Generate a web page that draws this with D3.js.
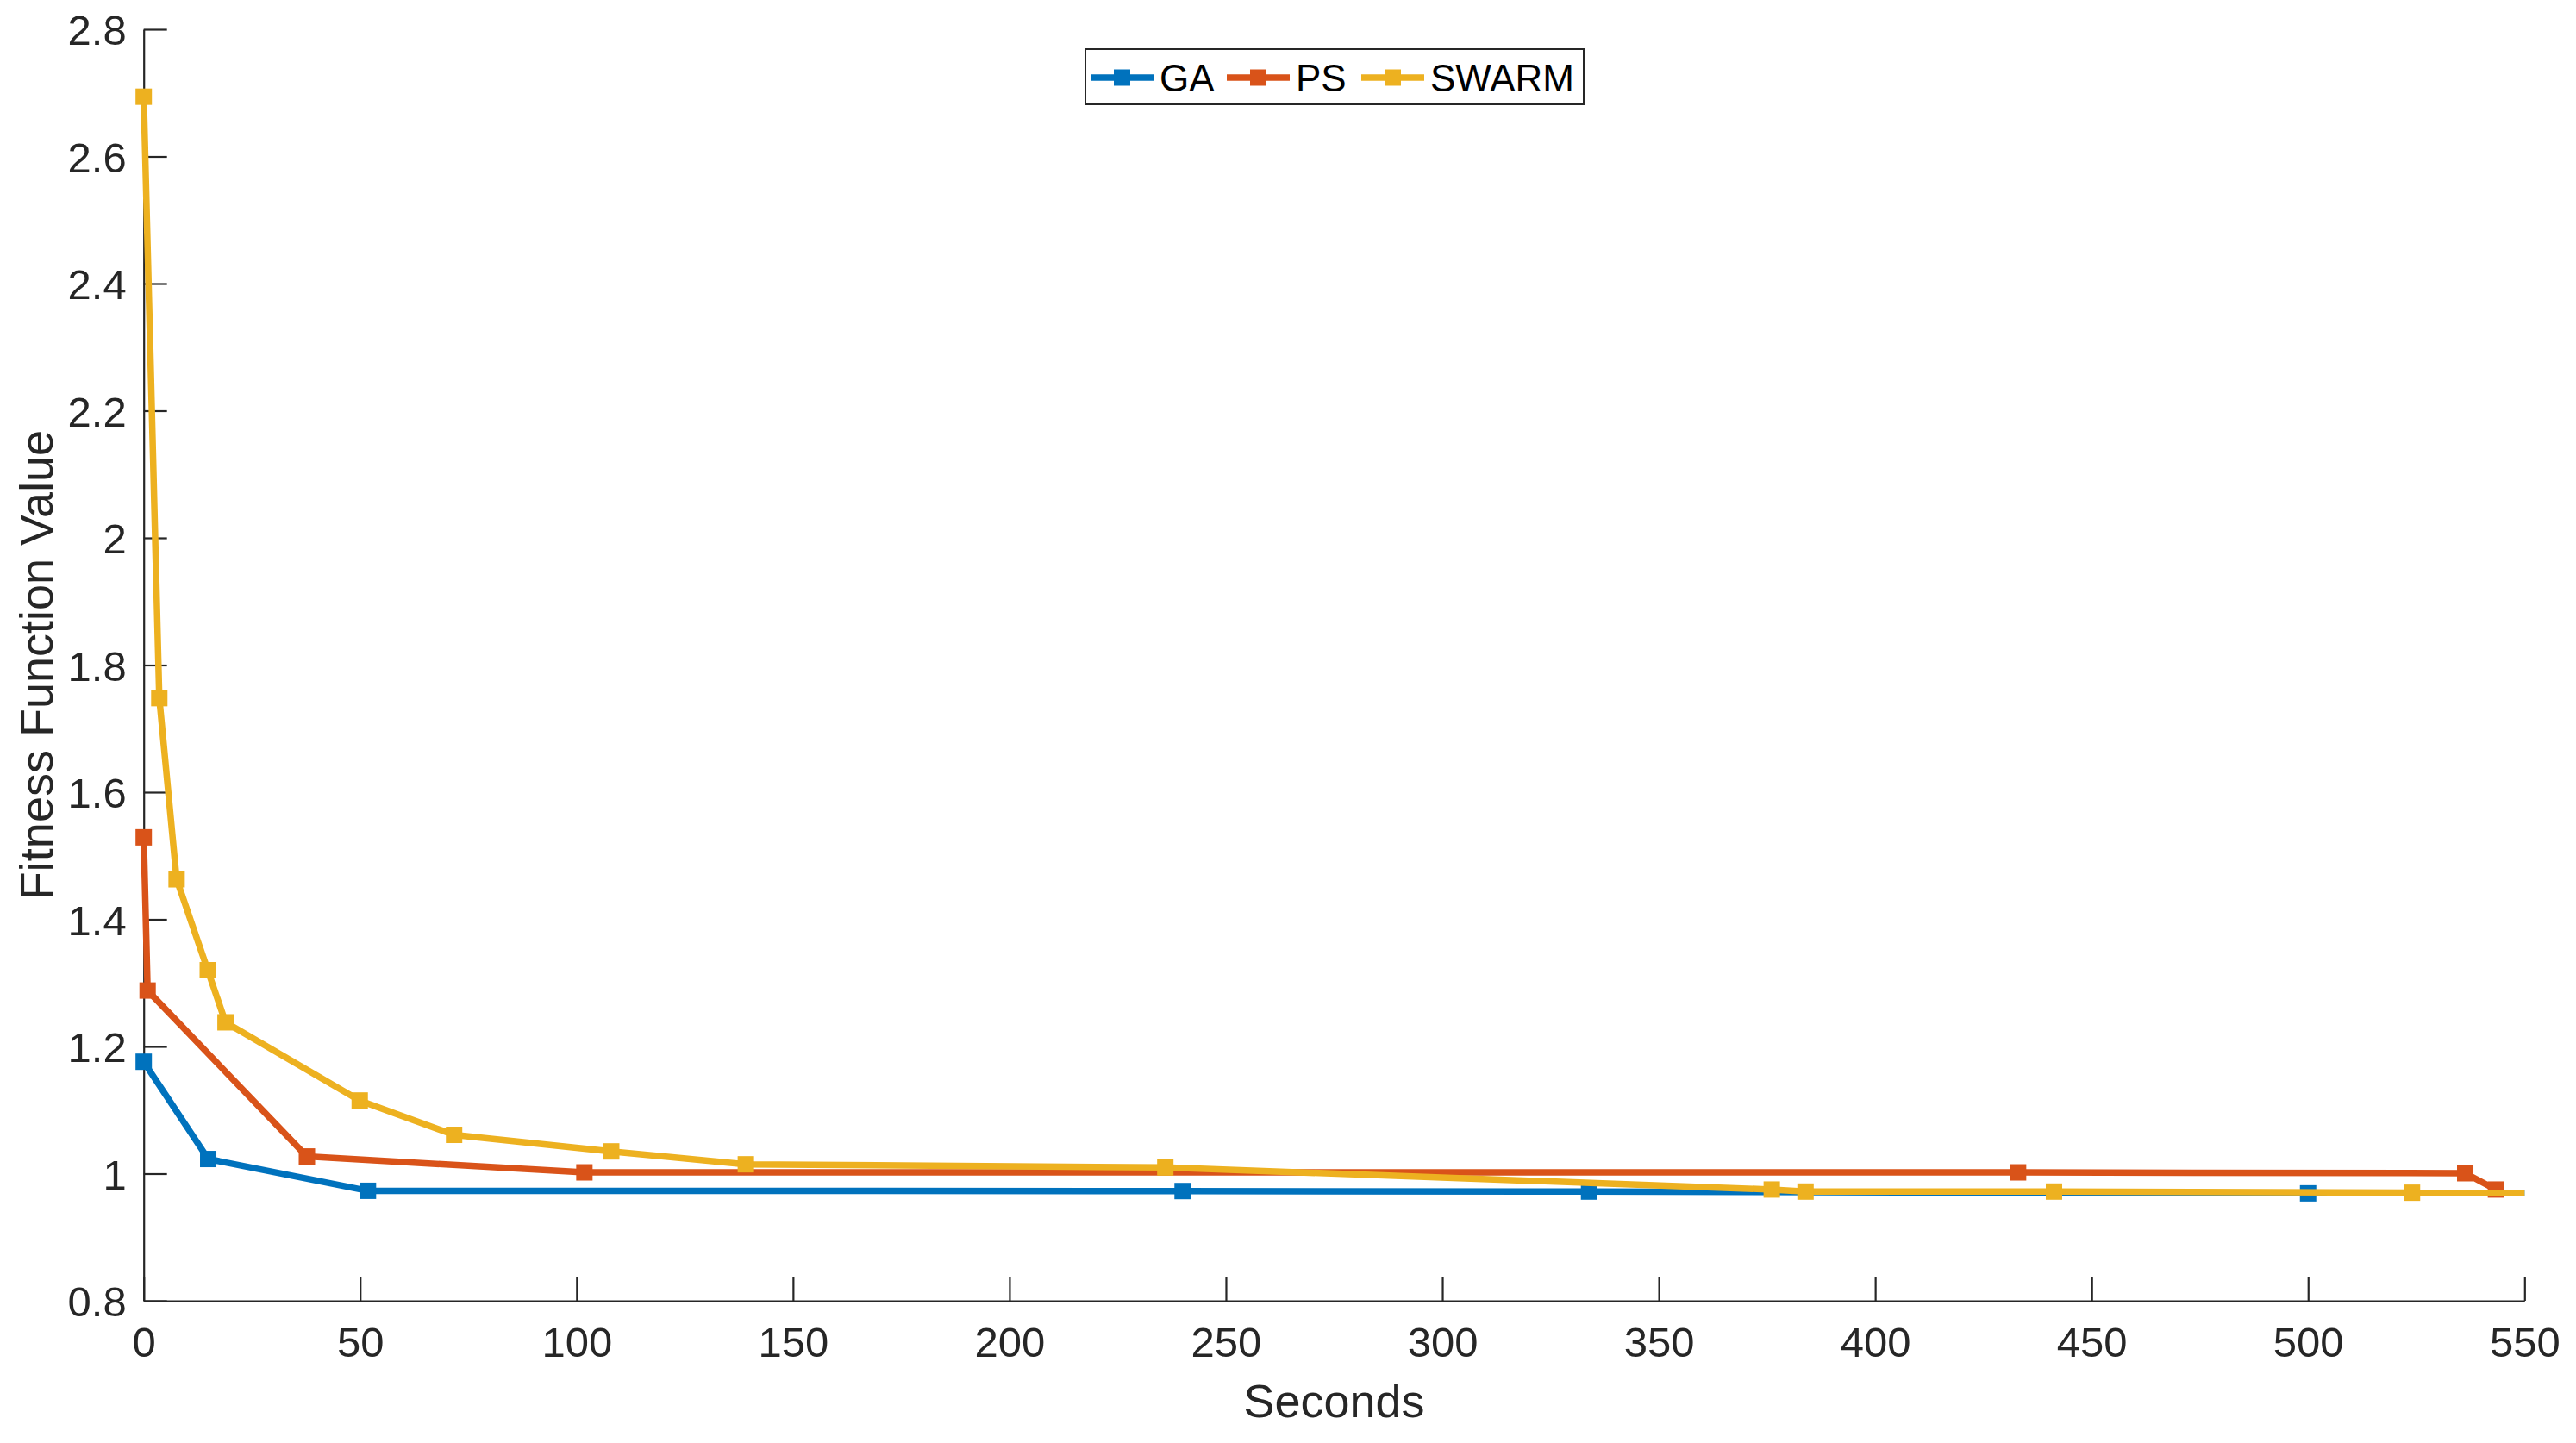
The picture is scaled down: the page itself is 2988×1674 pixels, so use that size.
<!DOCTYPE html>
<html>
<head>
<meta charset="utf-8">
<script src="https://cdn.jsdelivr.net/npm/d3@7"></script>
<style>
  html, body { margin: 0; padding: 0; background: #ffffff; }
  svg { display: block; }
</style>
</head>
<body>
<svg id="chart" width="2988" height="1674"></svg>
<script>
// ---- data ----
const seriesNames = ["GA", "PS", "SWARM"];
const seriesColors = ["#0072BD", "#D95319", "#EDB120"];

const gaSeconds = [0, 14.9, 51.8, 240, 333.9, 500, 556];
const gaFitness = [1.176, 1.023, 0.973, 0.9726, 0.9718, 0.969, 0.969];

const psSeconds = [0, 0.9, 37.7, 101.8, 433, 536.3, 543.4];
const psFitness = [1.529, 1.288, 1.027, 1.002, 1.002, 1.0007, 0.975];

const swarmSeconds = [0, 3.6, 7.6, 14.8, 18.9, 49.9, 71.7, 108, 139.1, 236, 376.1, 383.9, 441.3, 524, 558];
const swarmFitness = [2.694, 1.748, 1.463, 1.32, 1.238, 1.115, 1.061, 1.035, 1.0147, 1.0097, 0.975, 0.9718, 0.9718, 0.970, 0.970];

const xTickValues = [0, 50, 100, 150, 200, 250, 300, 350, 400, 450, 500, 550];
const yTickValues = [0.8, 1.0, 1.2, 1.4, 1.6, 1.8, 2.0, 2.2, 2.4, 2.6, 2.8];
const yTickLabels = ["0.8", "1", "1.2", "1.4", "1.6", "1.8", "2", "2.2", "2.4", "2.6", "2.8"];

const xLabel = "Seconds";
const yLabel = "Fitness Function Value";

// ---- layout ----
const plotLeft = 166.7, plotRight = 2928.3, plotTop = 34, plotBottom = 1509;
const font = "'Liberation Sans', Arial, Helvetica, sans-serif";
const textColor = "#262626";

const svg = d3.select("#chart");

const x = d3.scaleLinear().domain([0, 550]).range([plotLeft, plotRight]);
const y = d3.scaleLinear().domain([0.8, 2.8]).range([plotBottom, plotTop]);

// ---- axes ----
const xAxis = d3.axisBottom(x).tickValues(xTickValues).tickSizeInner(-27).tickSizeOuter(0).tickPadding(30).tickFormat(d3.format("d"));
const yAxis = d3.axisLeft(y).tickValues(yTickValues).tickSizeInner(-27).tickSizeOuter(0).tickPadding(20)
  .tickFormat((d, i) => yTickLabels[i]);

const gx = svg.append("g").attr("transform", `translate(0,${plotBottom})`).call(xAxis);
const gy = svg.append("g").attr("transform", `translate(${plotLeft},0)`).call(yAxis);

[gx, gy].forEach(g => {
  g.select(".domain").attr("stroke", textColor).attr("stroke-width", 2.2);
  g.selectAll(".tick line").attr("stroke", textColor).attr("stroke-width", 2.2);
  g.selectAll(".tick text").attr("fill", textColor).style("font-family", font).style("font-size", "49px");
});
gx.selectAll(".tick text").attr("dy", "0.71em");
gy.selectAll(".tick text").attr("dy", "0.36em");

// axis labels
svg.append("text")
  .attr("x", (plotLeft + plotRight) / 2).attr("y", 1644)
  .attr("text-anchor", "middle").attr("fill", textColor)
  .style("font-family", font).style("font-size", "54px")
  .text(xLabel);

svg.append("text")
  .attr("transform", `translate(61,${(plotTop + plotBottom) / 2}) rotate(-90)`)
  .attr("text-anchor", "middle").attr("fill", textColor)
  .style("font-family", font).style("font-size", "54px")
  .text(yLabel);

// ---- clip ----
svg.append("defs").append("clipPath").attr("id", "plotClip")
  .append("rect").attr("x", plotLeft - 30).attr("y", plotTop - 30)
  .attr("width", plotRight - plotLeft + 30).attr("height", plotBottom - plotTop + 60);

const plotG = svg.append("g").attr("clip-path", "url(#plotClip)");

const allSeries = [
  { name: seriesNames[0], color: seriesColors[0], xs: gaSeconds, ys: gaFitness },
  { name: seriesNames[1], color: seriesColors[1], xs: psSeconds, ys: psFitness },
  { name: seriesNames[2], color: seriesColors[2], xs: swarmSeconds, ys: swarmFitness }
];

const line = d3.line().x(d => x(d[0])).y(d => y(d[1]));
const markerSize = 19;

allSeries.forEach(s => {
  const pts = s.xs.map((v, i) => [v, s.ys[i]]);
  const g = plotG.append("g");
  g.append("path").datum(pts)
    .attr("d", line).attr("fill", "none")
    .attr("stroke", s.color).attr("stroke-width", 7.5)
    .attr("stroke-linejoin", "round");
  g.selectAll("rect").data(pts.filter(p => p[0] <= 550)).join("rect")
    .attr("x", d => x(d[0]) - markerSize / 2)
    .attr("y", d => y(d[1]) - markerSize / 2)
    .attr("width", markerSize).attr("height", markerSize)
    .attr("fill", s.color);
});

// ---- legend ----
const legend = svg.append("g");
legend.append("rect")
  .attr("x", 1259).attr("y", 57).attr("width", 578).attr("height", 64)
  .attr("fill", "#ffffff").attr("stroke", textColor).attr("stroke-width", 2);

const legendLineStarts = [1265, 1423, 1579];
const legendLen = 73;
allSeries.forEach((s, i) => {
  const lx = legendLineStarts[i];
  const ly = 90;
  legend.append("line").attr("x1", lx).attr("x2", lx + legendLen)
    .attr("y1", ly).attr("y2", ly).attr("stroke", s.color).attr("stroke-width", 7.5);
  legend.append("rect").attr("x", lx + legendLen / 2 - markerSize / 2).attr("y", ly - markerSize / 2)
    .attr("width", markerSize).attr("height", markerSize).attr("fill", s.color);
  legend.append("text").attr("x", lx + legendLen + 7).attr("y", ly).attr("dy", "0.36em")
    .attr("fill", "#000000").style("font-family", font).style("font-size", "44px")
    .text(s.name);
});
</script>
</body>
</html>
